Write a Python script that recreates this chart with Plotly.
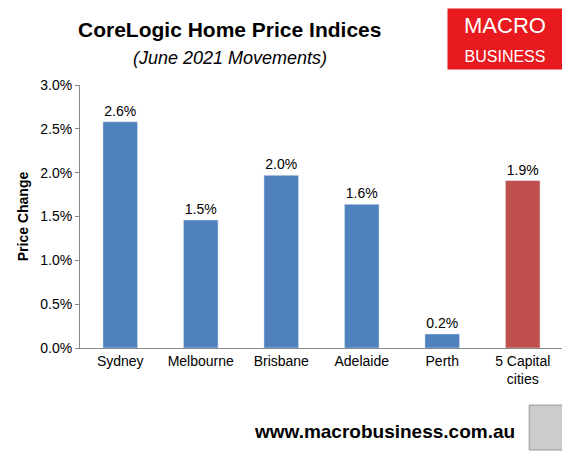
import plotly.graph_objects as go

cities = ["Sydney", "Melbourne", "Brisbane", "Adelaide", "Perth", "5 Capital<br>cities"]
changes = [2.58, 1.46, 1.97, 1.64, 0.16, 1.91]
labels = ["2.6%", "1.5%", "2.0%", "1.6%", "0.2%", "1.9%"]
colours = ["#4f81bd"] * 5 + ["#c0504d"]

fig = go.Figure()
fig.add_trace(go.Bar(x=cities, y=changes, marker_color=colours, width=0.43,
                     text=labels, textposition="outside", cliponaxis=False,
                     textfont=dict(size=14, color="black")))

fig.update_layout(
    width=570, height=465, margin=dict(l=72, r=15, t=77, b=125, autoexpand=False),
    paper_bgcolor="white", plot_bgcolor="white", showlegend=False,
    font=dict(family="Liberation Sans, Arial", size=14, color="black"),
    bargap=0.5,
)
fig.update_yaxes(range=[0, 3.0], dtick=0.5, tickformat=".1f", ticksuffix="%",
                 showgrid=False, showline=True, linecolor="#888", ticks="outside",
                 ticklen=4, tickcolor="#888", zeroline=False,
                 title=dict(text="<b>Price Change</b>", font=dict(size=14), standoff=8))
fig.update_xaxes(showline=True, linecolor="#888", ticks="outside", ticklen=0,
                 tickfont=dict(size=14))

fig.add_annotation(text="<b>CoreLogic Home Price Indices</b>", xref="paper", yref="paper",
                   x=0.31, y=1.21, showarrow=False, font=dict(size=21),
                   xanchor="center", yanchor="middle")
fig.add_annotation(text="<i>(June 2021 Movements)</i>", xref="paper", yref="paper",
                   x=0.31, y=1.103, showarrow=False, font=dict(size=18),
                   xanchor="center", yanchor="middle")
# logo
fig.add_annotation(text="MACRO<br><span style='font-size:16px'>BUSINESS</span>",
                   xref="paper", yref="paper", x=1.0, y=1.293, xanchor="right", yanchor="top",
                   showarrow=False, bgcolor="#e8191f", width=112, height=58,
                   font=dict(size=22, color="white"))
fig.add_annotation(text="<b>www.macrobusiness.com.au</b>", xref="paper", yref="paper",
                   x=0.905, y=-0.319, showarrow=False, font=dict(size=19),
                   xanchor="right", yanchor="middle")
fig.add_shape(type="rect", xref="paper", yref="paper", x0=0.93, x1=1.015, y0=-0.388, y1=-0.217,
              fillcolor="#ccc", line=dict(color="#999", width=1))

fig.write_html("out.html")
